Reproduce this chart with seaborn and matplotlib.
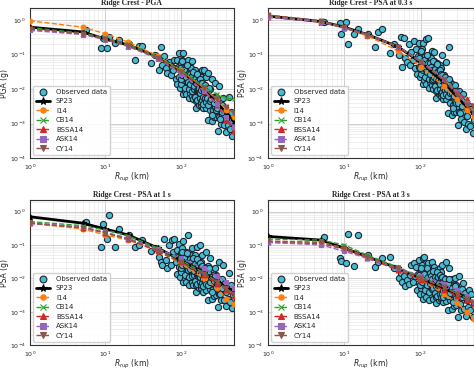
import matplotlib
matplotlib.use("Agg")
import matplotlib.pyplot as plt
import seaborn as sns
from matplotlib.ticker import LogLocator, NullFormatter

# ---------------- data ----------------
rrup_obs = [5.5, 8.7, 9.2, 10.4, 11.2, 13.5, 15.3, 20.5, 25, 27.5, 31, 40, 45, 52, 55, 57, 60, 63, 66, 70, 73, 76, 79, 82, 85,
            88, 90, 92, 94, 95, 97, 98, 100, 101, 103, 104, 106, 107, 108, 109, 110,
            112, 113, 115, 116, 118, 119, 121, 122, 124, 125, 127, 128, 130, 132, 133, 135, 137, 138, 140, 142, 143, 145, 146, 148, 149, 150,
            152, 154, 155, 157, 159, 160, 162, 164, 166, 168, 170, 172, 174, 176, 178, 180, 182, 184, 186, 188, 190, 192, 194, 196, 198, 200,
            204, 208, 212, 216, 220, 224, 228, 232, 236, 240, 244, 248, 252, 256, 260, 265, 270, 275, 280, 285, 290, 294, 297, 300,
            308, 315, 322, 330, 338, 345, 352, 360, 370, 380, 390, 400, 415, 430, 445, 460, 480, 495,
            96, 99, 102, 105, 111, 114, 117, 120, 123, 126, 129, 131, 134, 136, 139, 141, 144, 147,
            151, 153, 156, 158, 161, 163, 165, 167, 169, 171, 173, 175, 177, 179, 181, 183, 185, 187, 189,
            191, 193, 195, 197, 199, 202, 206, 210, 214, 218, 222, 226, 230, 238, 246, 254, 262, 272, 282, 292, 305, 325, 350]

obs_pga = [0.5, 0.15, 0.3, 0.15, 0.33, 0.22, 0.27, 0.2, 0.07, 0.18, 0.18, 0.055, 0.1, 0.035, 0.17, 0.05, 0.09, 0.04, 0.03, 0.06, 0.025, 0.045, 0.035, 0.07, 0.02,
           0.071, 0.014, 0.045, 0.022, 0.11, 0.011, 0.035, 0.056, 0.014, 0.071, 0.022, 0.11, 0.0071, 0.045, 0.018, 0.035,
           0.0089, 0.045, 0.022, 0.0071, 0.056, 0.018, 0.035, 0.011, 0.071, 0.014, 0.028, 0.0056, 0.045, 0.016, 0.0079, 0.025, 0.013, 0.04, 0.0063, 0.063, 0.01, 0.02, 0.005, 0.032, 0.016, 0.0079,
           0.035, 0.0089, 0.018, 0.0045, 0.022, 0.0028, 0.014, 0.028, 0.0071, 0.011, 0.022, 0.0035, 0.018, 0.0071, 0.028, 0.0045, 0.011, 0.0035, 0.022, 0.0056, 0.0089, 0.035, 0.0028, 0.014, 0.0045, 0.011,
           0.035, 0.0056, 0.0028, 0.022, 0.0045, 0.011, 0.0013, 0.03, 0.005, 0.0025, 0.01, 0.004, 0.0048, 0.0012, 0.02, 0.0024, 0.006, 0.0015, 0.015, 0.003, 0.0015, 0.006, 0.0024, 0.0048,
           0.00063, 0.012, 0.0016, 0.0032, 0.001, 0.0035, 0.0018, 0.0056, 0.00089, 0.0028, 0.00056, 0.0014, 0.00089, 0.006, 0.00071, 0.0022, 0.00045, 0.0011,
           0.04, 0.02, 0.063, 0.025, 0.035, 0.011, 0.022, 0.05, 0.016, 0.028, 0.01, 0.028, 0.014, 0.022, 0.0089, 0.018, 0.032, 0.01,
           0.012, 0.019, 0.006, 0.015, 0.0095, 0.027, 0.0048, 0.017, 0.0085, 0.017, 0.0085, 0.011, 0.0054, 0.019, 0.0076, 0.015, 0.0043, 0.0095, 0.012,
           0.0048, 0.015, 0.006, 0.011, 0.0038, 0.0085, 0.0054, 0.013, 0.0043, 0.0095, 0.0056, 0.0089, 0.0035, 0.011, 0.0045, 0.005, 0.0018, 0.004, 0.0056, 0.0025, 0.0028, 0.0014, 0.0022]

obs_psa03 = [0.9, 0.8, 0.4, 0.85, 0.2, 0.4, 0.55, 0.4, 0.16, 0.45, 0.55, 0.11, 0.2, 0.1, 0.33, 0.045, 0.3, 0.08, 0.06, 0.2, 0.05, 0.12, 0.07, 0.25, 0.04,
             0.14, 0.028, 0.089, 0.045, 0.22, 0.022, 0.071, 0.11, 0.028, 0.14, 0.045, 0.22, 0.014, 0.089, 0.035, 0.071,
             0.018, 0.089, 0.045, 0.014, 0.28, 0.035, 0.071, 0.022, 0.3, 0.028, 0.056, 0.011, 0.089, 0.032, 0.016, 0.05, 0.025, 0.079, 0.013, 0.13, 0.02, 0.04, 0.01, 0.063, 0.032, 0.016,
             0.12, 0.018, 0.035, 0.0089, 0.045, 0.0056, 0.028, 0.056, 0.014, 0.022, 0.045, 0.0071, 0.035, 0.013, 0.05, 0.0079, 0.02, 0.0063, 0.04, 0.01, 0.016, 0.1, 0.005, 0.025, 0.0079, 0.02,
             0.025, 0.01, 0.005, 0.06, 0.0079, 0.02, 0.002, 0.16, 0.0079, 0.004, 0.016, 0.0063, 0.0071, 0.0018, 0.014, 0.0035, 0.0089, 0.0022, 0.013, 0.0042, 0.0021, 0.0083, 0.0033, 0.0066,
             0.00089, 0.0089, 0.0022, 0.0045, 0.0014, 0.0045, 0.0022, 0.0071, 0.0011, 0.0035, 0.00071, 0.0017, 0.001, 0.0033, 0.00083, 0.0026, 0.00052, 0.0013,
             0.079, 0.04, 0.13, 0.05, 0.071, 0.022, 0.045, 0.1, 0.032, 0.056, 0.02, 0.056, 0.028, 0.045, 0.018, 0.035, 0.063, 0.02,
             0.023, 0.037, 0.012, 0.03, 0.019, 0.052, 0.0093, 0.033, 0.017, 0.032, 0.016, 0.02, 0.01, 0.035, 0.014, 0.028, 0.0079, 0.018, 0.022,
             0.0083, 0.026, 0.0105, 0.019, 0.0066, 0.015, 0.0093, 0.023, 0.0074, 0.017, 0.01, 0.016, 0.0063, 0.02, 0.0079, 0.0079, 0.0028, 0.0063, 0.0089, 0.004, 0.004, 0.002, 0.0032]

obs_psa1 = [0.5, 0.09, 0.42, 0.15, 0.8, 0.09, 0.3, 0.2, 0.09, 0.1, 0.14, 0.065, 0.08, 0.045, 0.03, 0.025, 0.15, 0.035, 0.02, 0.1, 0.025, 0.14, 0.06, 0.15, 0.03,
            0.071, 0.014, 0.045, 0.022, 0.11, 0.011, 0.035, 0.056, 0.016, 0.079, 0.025, 0.13, 0.0079, 0.05, 0.02, 0.04,
            0.01, 0.05, 0.025, 0.0079, 0.063, 0.02, 0.04, 0.013, 0.2, 0.016, 0.032, 0.0063, 0.05, 0.02, 0.01, 0.032, 0.016, 0.05, 0.0079, 0.079, 0.013, 0.025, 0.0063, 0.04, 0.02, 0.01,
            0.05, 0.013, 0.025, 0.0063, 0.032, 0.004, 0.02, 0.09, 0.01, 0.016, 0.032, 0.005, 0.025, 0.01, 0.1, 0.0063, 0.016, 0.005, 0.032, 0.0079, 0.013, 0.05, 0.004, 0.02, 0.0063, 0.016,
            0.022, 0.0089, 0.0045, 0.06, 0.0071, 0.018, 0.0023, 0.023, 0.0093, 0.0047, 0.04, 0.0074, 0.0095, 0.0024, 0.019, 0.0048, 0.012, 0.003, 0.02, 0.0063, 0.0032, 0.013, 0.005, 0.01,
            0.0014, 0.03, 0.0035, 0.0071, 0.0022, 0.0093, 0.0047, 0.025, 0.0023, 0.0074, 0.0015, 0.004, 0.0025, 0.015, 0.002, 0.0063, 0.0013, 0.0032,
            0.04, 0.02, 0.063, 0.025, 0.04, 0.013, 0.025, 0.056, 0.018, 0.032, 0.011, 0.037, 0.019, 0.03, 0.012, 0.023, 0.042, 0.013,
            0.017, 0.027, 0.0085, 0.021, 0.013, 0.038, 0.0068, 0.024, 0.012, 0.025, 0.013, 0.016, 0.0079, 0.028, 0.011, 0.022, 0.0063, 0.014, 0.018,
            0.0074, 0.023, 0.0093, 0.017, 0.0059, 0.013, 0.0083, 0.021, 0.0066, 0.015, 0.01, 0.016, 0.0063, 0.02, 0.0079, 0.011, 0.0038, 0.0085, 0.012, 0.0054, 0.0066, 0.0033, 0.0052]

obs_psa3 = [0.17, 0.04, 0.033, 0.028, 0.21, 0.024, 0.2, 0.05, 0.022, 0.03, 0.04, 0.045, 0.02, 0.01, 0.015, 0.008, 0.012, 0.006, 0.009, 0.007, 0.013, 0.025, 0.008, 0.028, 0.012,
            0.022, 0.0045, 0.014, 0.0071, 0.035, 0.0035, 0.011, 0.018, 0.005, 0.025, 0.0079, 0.04, 0.0025, 0.016, 0.0063, 0.045,
            0.0035, 0.018, 0.0089, 0.0028, 0.022, 0.0071, 0.014, 0.0045, 0.028, 0.0056, 0.011, 0.0022, 0.018, 0.0079, 0.004, 0.013, 0.0063, 0.02, 0.0032, 0.032, 0.005, 0.01, 0.0025, 0.016, 0.0079, 0.004,
            0.022, 0.0056, 0.011, 0.0028, 0.014, 0.0018, 0.0089, 0.018, 0.0045, 0.0071, 0.014, 0.0022, 0.011, 0.005, 0.02, 0.0032, 0.0079, 0.0025, 0.016, 0.004, 0.0063, 0.025, 0.002, 0.01, 0.0032, 0.0079,
            0.01, 0.0042, 0.0021, 0.03, 0.0033, 0.0083, 0.0011, 0.02, 0.0045, 0.0022, 0.0089, 0.0035, 0.0047, 0.0012, 0.0093, 0.0023, 0.0059, 0.0015, 0.01, 0.0032, 0.0016, 0.0063, 0.0025, 0.005,
            0.00071, 0.012, 0.0018, 0.0035, 0.0011, 0.0047, 0.0023, 0.0074, 0.0012, 0.0037, 0.00074, 0.0022, 0.0014, 0.0045, 0.0011, 0.0035, 0.00071, 0.0018,
            0.013, 0.0063, 0.02, 0.0079, 0.014, 0.0045, 0.0089, 0.02, 0.0063, 0.011, 0.004, 0.015, 0.0074, 0.012, 0.0047, 0.0093, 0.017, 0.0052,
            0.0072, 0.011, 0.0036, 0.0091, 0.0058, 0.016, 0.0029, 0.01, 0.0051, 0.011, 0.0056, 0.0071, 0.0035, 0.013, 0.005, 0.01, 0.0028, 0.0063, 0.0079,
            0.0035, 0.011, 0.0044, 0.0078, 0.0028, 0.0062, 0.0039, 0.0098, 0.0031, 0.0069, 0.0047, 0.0074, 0.003, 0.0093, 0.0037, 0.0052, 0.0019, 0.0042, 0.0059, 0.0026, 0.0034, 0.0017, 0.0027]

rrup_model = [1, 5, 10, 20, 50, 100, 200, 300, 400, 500]
model_names = ["SP23", "I14", "CB14", "BSSA14", "ASK14", "CY14"]

pga_sp23 = [0.62, 0.45, 0.28, 0.19, 0.085, 0.035, 0.010, 0.004, 0.002, 0.0012]
pga_i14 = [0.95, 0.62, 0.40, 0.23, 0.09, 0.035, 0.011, 0.005, 0.0025, 0.0015]
pga_cb14 = [0.6, 0.42, 0.3, 0.2, 0.085, 0.035, 0.012, 0.007, 0.0055, 0.005]
pga_bssa14 = [0.55, 0.4, 0.28, 0.18, 0.08, 0.03, 0.009, 0.0035, 0.0013, 0.0006]
pga_ask14 = [0.5, 0.38, 0.27, 0.17, 0.075, 0.028, 0.009, 0.0037, 0.0016, 0.0008]
pga_cy14 = [0.55, 0.4, 0.28, 0.18, 0.08, 0.032, 0.011, 0.005, 0.003, 0.002]

psa03_sp23 = [1.3, 0.9, 0.62, 0.38, 0.17, 0.06, 0.016, 0.006, 0.003, 0.0018]
psa03_i14 = [1.35, 0.9, 0.6, 0.35, 0.13, 0.045, 0.012, 0.005, 0.0025, 0.0015]
psa03_cb14 = [1.25, 0.9, 0.6, 0.38, 0.17, 0.065, 0.02, 0.009, 0.005, 0.003]
psa03_bssa14 = [1.2, 0.9, 0.6, 0.38, 0.17, 0.065, 0.02, 0.008, 0.005, 0.0035]
psa03_ask14 = [1.2, 0.9, 0.6, 0.38, 0.17, 0.065, 0.02, 0.008, 0.004, 0.002]
psa03_cy14 = [1.4, 0.95, 0.62, 0.38, 0.17, 0.06, 0.018, 0.007, 0.0035, 0.002]

psa1_sp23 = [0.7, 0.45, 0.3, 0.2, 0.08, 0.035, 0.015, 0.008, 0.0055, 0.004]
psa1_i14 = [0.45, 0.3, 0.2, 0.14, 0.065, 0.028, 0.010, 0.005, 0.0025, 0.0017]
psa1_cb14 = [0.5, 0.38, 0.28, 0.19, 0.08, 0.035, 0.015, 0.008, 0.005, 0.0035]
psa1_bssa14 = [0.45, 0.33, 0.23, 0.15, 0.065, 0.03, 0.013, 0.007, 0.0045, 0.003]
psa1_ask14 = [0.45, 0.35, 0.24, 0.16, 0.075, 0.04, 0.02, 0.012, 0.008, 0.005]
psa1_cy14 = [0.45, 0.33, 0.23, 0.15, 0.068, 0.03, 0.014, 0.008, 0.005, 0.0035]

psa3_sp23 = [0.18, 0.14, 0.08, 0.045, 0.02, 0.01, 0.005, 0.0035, 0.0025, 0.002]
psa3_i14 = [0.13, 0.12, 0.08, 0.045, 0.02, 0.009, 0.0035, 0.0018, 0.001, 0.0006]
psa3_cb14 = [0.15, 0.14, 0.1, 0.05, 0.022, 0.011, 0.0055, 0.0035, 0.0025, 0.002]
psa3_bssa14 = [0.12, 0.11, 0.075, 0.04, 0.018, 0.009, 0.0045, 0.003, 0.0022, 0.0017]
psa3_ask14 = [0.12, 0.1, 0.065, 0.04, 0.02, 0.012, 0.007, 0.0045, 0.003, 0.002]
psa3_cy14 = [0.13, 0.12, 0.08, 0.045, 0.02, 0.01, 0.0055, 0.0035, 0.0025, 0.0018]

titles = ["Ridge Crest - PGA", "Ridge Crest - PSA at 0.3 s", "Ridge Crest - PSA at 1 s", "Ridge Crest - PSA at 3 s"]
ylabels = ["PGA (g)", "PSA (g)", "PSA (g)", "PSA (g)"]

panels = [
    (obs_pga, [pga_sp23, pga_i14, pga_cb14, pga_bssa14, pga_ask14, pga_cy14]),
    (obs_psa03, [psa03_sp23, psa03_i14, psa03_cb14, psa03_bssa14, psa03_ask14, psa03_cy14]),
    (obs_psa1, [psa1_sp23, psa1_i14, psa1_cb14, psa1_bssa14, psa1_ask14, psa1_cy14]),
    (obs_psa3, [psa3_sp23, psa3_i14, psa3_cb14, psa3_bssa14, psa3_ask14, psa3_cy14]),
]

# ---------------- style ----------------
sns.set_style("whitegrid")
plt.rcParams['font.family'] = ['DejaVu Sans']
plt.rcParams['mathtext.fontset'] = 'dejavusans'

styles = [
    dict(color="black", marker="*", linestyle="-", linewidth=2.0, markersize=5),
    dict(color="#ff7f0e", marker="o", linestyle="--", linewidth=1.0, markersize=3.5),
    dict(color="#2ca02c", marker="x", linestyle="--", linewidth=1.0, markersize=3.5),
    dict(color="#d62728", marker="^", linestyle="--", linewidth=1.0, markersize=3.5),
    dict(color="#9467bd", marker="s", linestyle="--", linewidth=1.0, markersize=3.5),
    dict(color="#8c564b", marker="v", linestyle="--", linewidth=1.0, markersize=3.5),
]

fig = plt.figure(figsize=(4.74, 3.72), dpi=100)
positions = [
    [0.063, 0.575, 0.430, 0.403],
    [0.565, 0.575, 0.435, 0.403],
    [0.063, 0.072, 0.430, 0.390],
    [0.565, 0.072, 0.435, 0.390],
]

for i, (obs, models) in enumerate(panels):
    ax = fig.add_axes(positions[i])
    ax.set_xscale("log")
    ax.set_yscale("log")
    sns.scatterplot(x=rrup_obs, y=obs, ax=ax, color="#45bcd4", edgecolor="#1b2430",
                    s=20, linewidth=0.8, label="Observed data", zorder=2)
    for name, vals, st in zip(model_names, models, styles):
        sns.lineplot(x=rrup_model, y=vals, ax=ax, label=name, zorder=3,
                     markeredgecolor=st["color"], markeredgewidth=0.8, **st)
    ax.set_xlim(1, 500)
    ax.set_ylim(1e-4, 2.2)
    ax.xaxis.set_major_locator(LogLocator(base=10, numticks=10))
    ax.yaxis.set_major_locator(LogLocator(base=10, numticks=10))
    ax.xaxis.set_minor_locator(LogLocator(base=10, subs=range(2, 10), numticks=20))
    ax.yaxis.set_minor_locator(LogLocator(base=10, subs=range(2, 10), numticks=20))
    ax.xaxis.set_minor_formatter(NullFormatter())
    ax.yaxis.set_minor_formatter(NullFormatter())
    ax.grid(True, which="major", color="#cfcfcf", linewidth=0.7)
    ax.grid(True, which="minor", color="#e4e4e4", linewidth=0.4)
    ax.tick_params(which="major", length=2, width=0.5, labelsize=4.5, pad=1)
    ax.tick_params(which="minor", length=1, width=0.4)
    for sp in ax.spines.values():
        sp.set_color("#333333")
        sp.set_linewidth(0.8)
    ax.set_title(titles[i], fontsize=5.5, fontweight="bold", family="Liberation Serif", pad=2)
    ax.set_xlabel("$R_{rup}$ (km)", fontsize=5.5)
    ax.set_ylabel(ylabels[i], fontsize=5.5)
    ax.yaxis.set_label_coords(-0.1, 0.5)
    ax.xaxis.set_label_coords(0.5, -0.085)
    ax.legend(loc="lower left", fontsize=5, frameon=True, framealpha=0.9, edgecolor="#cccccc",
              borderpad=0.45, labelspacing=0.5, handlelength=2.0, fancybox=True, markerscale=1.1)

fig.savefig("out.png", dpi=100)
